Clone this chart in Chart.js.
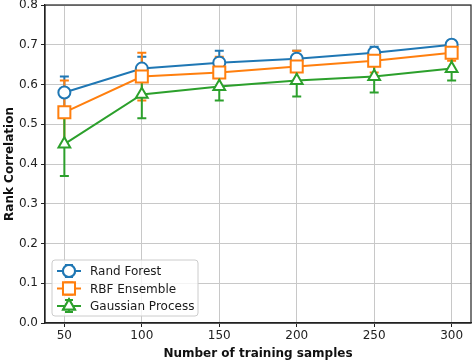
<!DOCTYPE html>
<html><head><meta charset="utf-8">
<script src="https://cdn.jsdelivr.net/npm/chart.js@4.4.1/dist/chart.umd.min.js"></script>
<style>html,body{margin:0;padding:0;background:#fff}#wrap{width:474px;height:361px}</style>
</head><body><div id="wrap"><canvas id="c" width="474" height="361"></canvas></div>
<script>
const samples = [50, 100, 150, 200, 250, 300];
const randForest = [0.58, 0.64, 0.655, 0.665, 0.68, 0.70];
const randForestErr = [0.04, 0.03, 0.03, 0.02, 0.015, 0.01];
const rbfEnsemble = [0.53, 0.62, 0.63, 0.645, 0.66, 0.68];
const rbfEnsembleErr = [0.08, 0.06, 0.04, 0.04, 0.03, 0.02];
const gaussProc = [0.45, 0.575, 0.595, 0.61, 0.62, 0.64];
const gaussProcErr = [0.08, 0.06, 0.035, 0.04, 0.04, 0.03];
const xTicks = [50, 100, 150, 200, 250, 300];
const yTicks = [0.0, 0.1, 0.2, 0.3, 0.4, 0.5, 0.6, 0.7, 0.8];

const FONT = '"DejaVu Sans", sans-serif';
const errs = [randForestErr, rbfEnsembleErr, gaussProcErr];
const RADII = { circle: 6, rect: 8.5, triangle: 6.8 };

function mk(label, vals, color, style, order) {
  return {
    label, data: samples.map((x, i) => ({x, y: vals[i]})),
    borderColor: color, backgroundColor: '#ffffff', borderWidth: 2,
    pointStyle: style, pointRadius: RADII[style],
    pointBorderWidth: 2, pointBackgroundColor: '#ffffff', pointBorderColor: color,
    tension: 0, fill: false, order, clip: false
  };
}

const extras = {
  id: 'extras',
  beforeDatasetsDraw(chart) {
    const ctx = chart.ctx, xs = chart.scales.x, ys = chart.scales.y;
    ctx.save();
    chart.data.datasets.forEach((ds, di) => {
      ctx.strokeStyle = ds.borderColor; ctx.lineWidth = 2;
      ds.data.forEach((p, i) => {
        const e = errs[di][i];
        const px = xs.getPixelForValue(p.x);
        const top = ys.getPixelForValue(p.y + e), bot = ys.getPixelForValue(p.y - e);
        ctx.beginPath();
        ctx.moveTo(px, top); ctx.lineTo(px, bot);
        ctx.moveTo(px - 4.5, top); ctx.lineTo(px + 4.5, top);
        ctx.moveTo(px - 4.5, bot); ctx.lineTo(px + 4.5, bot);
        ctx.stroke();
      });
    });
    ctx.restore();
  },
  afterDraw(chart) {
    const ctx = chart.ctx, a = chart.chartArea;
    ctx.save();
    ctx.strokeStyle = '#222'; ctx.lineWidth = 1.2;
    ctx.strokeRect(a.left, a.top, a.right - a.left, a.bottom - a.top);
    // legend
    const bx = a.left + 7, by = a.bottom - 63, bw = 146, bh = 56;
    ctx.fillStyle = 'rgba(255,255,255,0.8)';
    ctx.strokeStyle = '#cccccc'; ctx.lineWidth = 1;
    ctx.beginPath();
    if (ctx.roundRect) ctx.roundRect(bx, by, bw, bh, 3); else ctx.rect(bx, by, bw, bh);
    ctx.fill(); ctx.stroke();
    chart.data.datasets.forEach((ds, i) => {
      const cy = by + 11 + i * 17.5;
      const x0 = bx + 5, x1 = bx + 29, cx = (x0 + x1) / 2;
      ctx.strokeStyle = ds.borderColor; ctx.lineWidth = 2;
      ctx.beginPath(); ctx.moveTo(x0, cy); ctx.lineTo(x1, cy); ctx.stroke();
      ctx.beginPath(); ctx.moveTo(cx, cy - 6); ctx.lineTo(cx, cy + 6);
      ctx.moveTo(cx - 4, cy - 6); ctx.lineTo(cx + 4, cy - 6);
      ctx.moveTo(cx - 4, cy + 6); ctx.lineTo(cx + 4, cy + 6); ctx.stroke();
      Chart.helpers.drawPoint(ctx, {pointStyle: ds.pointStyle, radius: RADII[ds.pointStyle], borderWidth: 2}, cx, cy);
      ctx.fillStyle = '#ffffff'; ctx.fill(); ctx.stroke();
      ctx.fillStyle = '#1a1a1a'; ctx.font = '12px ' + FONT;
      ctx.textBaseline = 'middle'; ctx.textAlign = 'left';
      ctx.fillText(ds.label, bx + 38, cy + 1);
    });
    ctx.restore();
  }
};

new Chart(document.getElementById('c'), {
  type: 'line',
  data: { datasets: [
    mk('Rand Forest', randForest, '#1f77b4', 'circle', 2),
    mk('RBF Ensemble', rbfEnsemble, '#ff7f0e', 'rect', 1),
    mk('Gaussian Process', gaussProc, '#2ca02c', 'triangle', 0)
  ]},
  options: {
    responsive: false, animation: false, devicePixelRatio: 1,
    layout: { autoPadding: false, padding: { top: 5, right: 3, left: 3, bottom: 0 } },
    plugins: { legend: { display: false }, tooltip: { enabled: false } },
    scales: {
      x: {
        type: 'linear', min: 37.5, max: 312.5,
        afterBuildTicks: s => { s.ticks = xTicks.map(v => ({value: v})); },
        afterFit: s => { s.height = 38; s.paddingLeft = 0; s.paddingRight = 0; },
        ticks: { color: '#222', font: { family: FONT, size: 12 }, padding: 2, maxRotation: 0 },
        grid: { color: '#c8c8c8', lineWidth: 1, drawTicks: true, tickLength: 4, tickColor: '#222' },
        border: { display: true, color: '#222', width: 1.2 },
        title: { display: true, text: 'Number of training samples', color: '#111',
                 font: { family: FONT, size: 12, weight: 'bold' }, padding: { top: 0, bottom: 0 } }
      },
      y: {
        min: 0, max: 0.8,
        afterBuildTicks: s => { s.ticks = yTicks.map(v => ({value: v})); },
        afterFit: s => { s.width = 42; s.paddingTop = 0; s.paddingBottom = 0; },
        ticks: { color: '#222', font: { family: FONT, size: 12 }, padding: 3,
                 callback: v => Number(v).toFixed(1) },
        grid: { color: '#c8c8c8', lineWidth: 1, drawTicks: true, tickLength: 4, tickColor: '#222' },
        border: { display: true, color: '#222', width: 1.2 },
        title: { display: true, text: 'Rank Correlation', color: '#111',
                 font: { family: FONT, size: 12, weight: 'bold' }, padding: { top: 0, bottom: 0 } }
      }
    }
  },
  plugins: [extras]
});
</script></body></html>
